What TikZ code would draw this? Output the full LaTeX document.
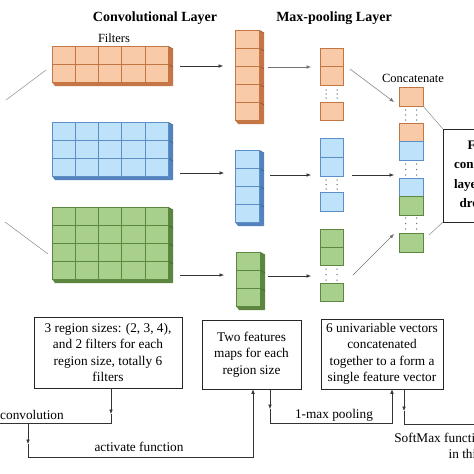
\documentclass[tikz,border=0pt]{standalone}
\usepackage{fontspec}
\setmainfont{Liberation Serif}
\usetikzlibrary{arrows.meta}
\definecolor{orfill}{RGB}{248,202,168}
\definecolor{orline}{RGB}{196,118,66}
\definecolor{orside}{RGB}{196,118,70}
\definecolor{blfill}{RGB}{190,226,250}
\definecolor{blline}{RGB}{92,142,200}
\definecolor{blside}{RGB}{84,130,188}
\definecolor{grfill}{RGB}{168,208,140}
\definecolor{grline}{RGB}{92,136,62}
\definecolor{grside}{RGB}{92,134,64}
\definecolor{dotc}{RGB}{100,118,140}
\tikzset{
  ln/.style={draw=black!80, line width=0.6pt},
  arr/.style={ln, -{Latex[length=4.5pt,width=3.6pt]}},
  lightarr/.style={draw=black!55, line width=0.5pt, -{Latex[length=4.5pt,width=3.6pt]}},
  callout/.style={draw=black!45, line width=0.5pt},
  txt/.style={font=\fontsize{13.3}{16.5}\selectfont, align=center, inner sep=0pt},
  boxed/.style={txt, draw=black!85, line width=0.6pt},
  title/.style={font=\fontsize{14}{16}\selectfont\bfseries, inner sep=0pt},
  small/.style={font=\fontsize{12.5}{14}\selectfont, inner sep=0pt}
}
\newcommand{\blockthreed}[7]{%
  \pgfmathsetmacro{\blkx}{#1+#3*#5}%
  \pgfmathsetmacro{\blky}{#2+#4*#6}%
  \pgfmathtruncatemacro{\blkc}{#3-1}%
  \pgfmathtruncatemacro{\blkr}{#4-1}%
  \fill[#7side] (\blkx,#2) -- (\blkx+5,#2+3) -- (\blkx+5,\blky+4) -- (\blkx,\blky) -- cycle;
  \fill[#7side] (#1,\blky) -- (#1+3,\blky+4) -- (\blkx+5,\blky+4) -- (\blkx,\blky) -- cycle;
  \foreach \jj in {0,...,\blkr} {\draw[#7line!60!black, line width=0.4pt] (\blkx,{#2+\jj*#6}) -- ++(5,3);}
  \foreach \ii in {0,...,\blkc} {\foreach \jj in {0,...,\blkr} {%
    \draw[#7line, fill=#7fill, line width=0.6pt] ({#1+\ii*#5},{#2+\jj*#6}) rectangle ++(#5,#6);}}
}
\newcommand{\flatcell}[5]{\draw[#5line, fill=#5fill, line width=0.6pt] (#1,#2) rectangle ++(#4,#3);}
\newcommand{\vdotpair}[3]{%
  \foreach \tt in {0,0.5,1} {%
    \fill[dotc] (#1,{#2+\tt*(#3-#2)}) circle[radius=0.75];
    \fill[dotc] (#1+11,{#2+\tt*(#3-#2)}) circle[radius=0.75];}}
\begin{document}
\begin{tikzpicture}[x=1pt,y=-1pt]
\useasboundingbox (0,0) rectangle (474,474);
\clip (0,0) rectangle (474,474);
\fill[white] (0,0) rectangle (474,474);

% titles
\node[title] (tconv) at (155,18) {Convolutional Layer};
\node[title] (tpool) at (334,18) {Max-pooling Layer};
\node[small] (tfilt) at (114,38) {Filters};
\node[small] (tcat) at (413,78) {Concatenate};

% remnants of input lines
\coordinate (in1a) at (6,100); \coordinate (in1b) at (46,70);
\coordinate (in2a) at (5,222); \coordinate (in2b) at (48,254);
\draw[callout] (in1a) -- (in1b);
\draw[callout] (in2a) -- (in2b);

% filters
\blockthreed{52}{46}{5}{2}{23.2}{18}{or}
\blockthreed{52}{122}{5}{3}{23.2}{18}{bl}
\blockthreed{52}{207}{5}{4}{23.2}{18}{gr}

% convolution feature maps
\blockthreed{235}{30}{1}{5}{24}{18}{or}
\blockthreed{235}{150}{1}{4}{24}{18}{bl}
\blockthreed{236}{252}{1}{3}{24}{18}{gr}

% pooled vectors
\flatcell{320}{48}{18.5}{23.5}{or}
\flatcell{320}{66.5}{18.5}{23.5}{or}
\vdotpair{326}{90}{98}
\flatcell{320}{102}{18}{23.5}{or}
\flatcell{320}{138}{19}{23.5}{bl}
\flatcell{320}{157}{19}{23.5}{bl}
\vdotpair{326}{180}{189}
\flatcell{320}{192}{19}{23.5}{bl}
\flatcell{320}{229}{18}{23.5}{gr}
\flatcell{320}{247}{18}{23.5}{gr}
\vdotpair{326}{269}{280}
\flatcell{320}{283}{18}{23.5}{gr}

% concatenated vector
\flatcell{399}{87}{19}{24}{or}
\vdotpair{405.5}{110}{120}
\flatcell{399}{123}{18}{24}{or}
\flatcell{399}{141}{19}{24}{bl}
\vdotpair{405.5}{164}{175}
\flatcell{399}{178}{18}{24}{bl}
\flatcell{399}{196}{19}{24}{gr}
\vdotpair{405.5}{218}{229}
\flatcell{399}{233}{19}{24}{gr}

% arrows filters -> maps
\coordinate (fa1) at (180,66);  \coordinate (ma1) at (223,66);
\coordinate (fa2) at (180,173); \coordinate (ma2) at (224,173);
\coordinate (fa3) at (180,275); \coordinate (ma3) at (224,275);
\draw[arr] (fa1) -- (ma1);
\draw[arr] (fa2) -- (ma2);
\draw[arr] (fa3) -- (ma3);
% maps -> pooled
\coordinate (mb1) at (268,67);  \coordinate (pb1) at (311,67);
\coordinate (mb2) at (270,175); \coordinate (pb2) at (311,175);
\coordinate (mb3) at (268,276); \coordinate (pb3) at (311,276);
\draw[lightarr] (mb1) -- (pb1);
\draw[arr] (mb2) -- (pb2);
\draw[arr] (mb3) -- (pb3);
% pooled -> concatenated
\coordinate (pc1) at (350,69);  \coordinate (cc1) at (394,102);
\coordinate (pc2) at (352,175); \coordinate (cc2) at (394,175);
\coordinate (pc3) at (353,275); \coordinate (cc3) at (394,234);
\draw[lightarr] (pc1) -- (cc1);
\draw[arr] (pc2) -- (cc2);
\draw[lightarr] (pc3) -- (cc3);

% right box (clipped by the picture edge, as in the reference)
\node[txt, draw=black!85, line width=0.6pt, minimum width=78pt, minimum height=93pt,
      font=\fontsize{13}{19.5}\selectfont\bfseries] (fcbox) at (482,175.5)
      {Fully\\connected\\layer with\\dropout};
\coordinate (co1a) at (423,106); \coordinate (co2a) at (429,235);
\draw[callout] (co1a) -- (fcbox.north west);
\draw[callout] (co2a) -- (fcbox.south west);

% bottom boxes
\node[boxed, minimum width=148pt, minimum height=71pt] (box1) at (108,352.5)
  {3 region sizes: (2, 3, 4),\\and 2 filters for each\\region size, totally 6\\filters};
\node[boxed, minimum width=99pt, minimum height=69pt] (box2) at (251.5,354.5)
  {Two features\\maps for each\\region size};
\node[boxed, minimum width=122pt, minimum height=70pt] (box3) at (382,354)
  {6 univariable vectors\\concatenated\\together to a form a\\single feature vector};

% flow connectors
\coordinate (k1m) at (111,414); \coordinate (k1) at (111,423); \coordinate (k1e) at (-2,423);
\draw[arr] (k1 |- box1.south) -- (k1m);
\draw[ln] (k1m) -- (k1) -- (k1e);
\node[txt] (lconv) at (32,415) {convolution};

\coordinate (k2s) at (28,423); \coordinate (k2m) at (28,444); \coordinate (k2c) at (28,457);
\coordinate (k2d) at (253,457);
\draw[arr] (k2s) -- (k2m);
\draw[arr] (k2m) -- (k2c) -- (k2d) -- (k2d |- box2.south);
\node[txt] (lact) at (139,447) {activate function};

\coordinate (k3m) at (270,409); \coordinate (k3) at (270,423); \coordinate (k3d) at (392,423);
\draw[arr] (k3 |- box2.south) -- (k3m);
\draw[arr] (k3m) -- (k3) -- (k3d) -- (k3d |- box3.south);
\node[txt] (lpool) at (334,415) {1-max pooling};

\coordinate (k4m) at (404,411); \coordinate (k4) at (404,424); \coordinate (k4e) at (480,424);
\draw[arr] (k4 |- box3.south) -- (k4m);
\draw[ln] (k4m) -- (k4) -- (k4e);
\node[txt] (lsoft) at (480,447) {SoftMax function regularization\\in this layer};
\end{tikzpicture}
\end{document}
